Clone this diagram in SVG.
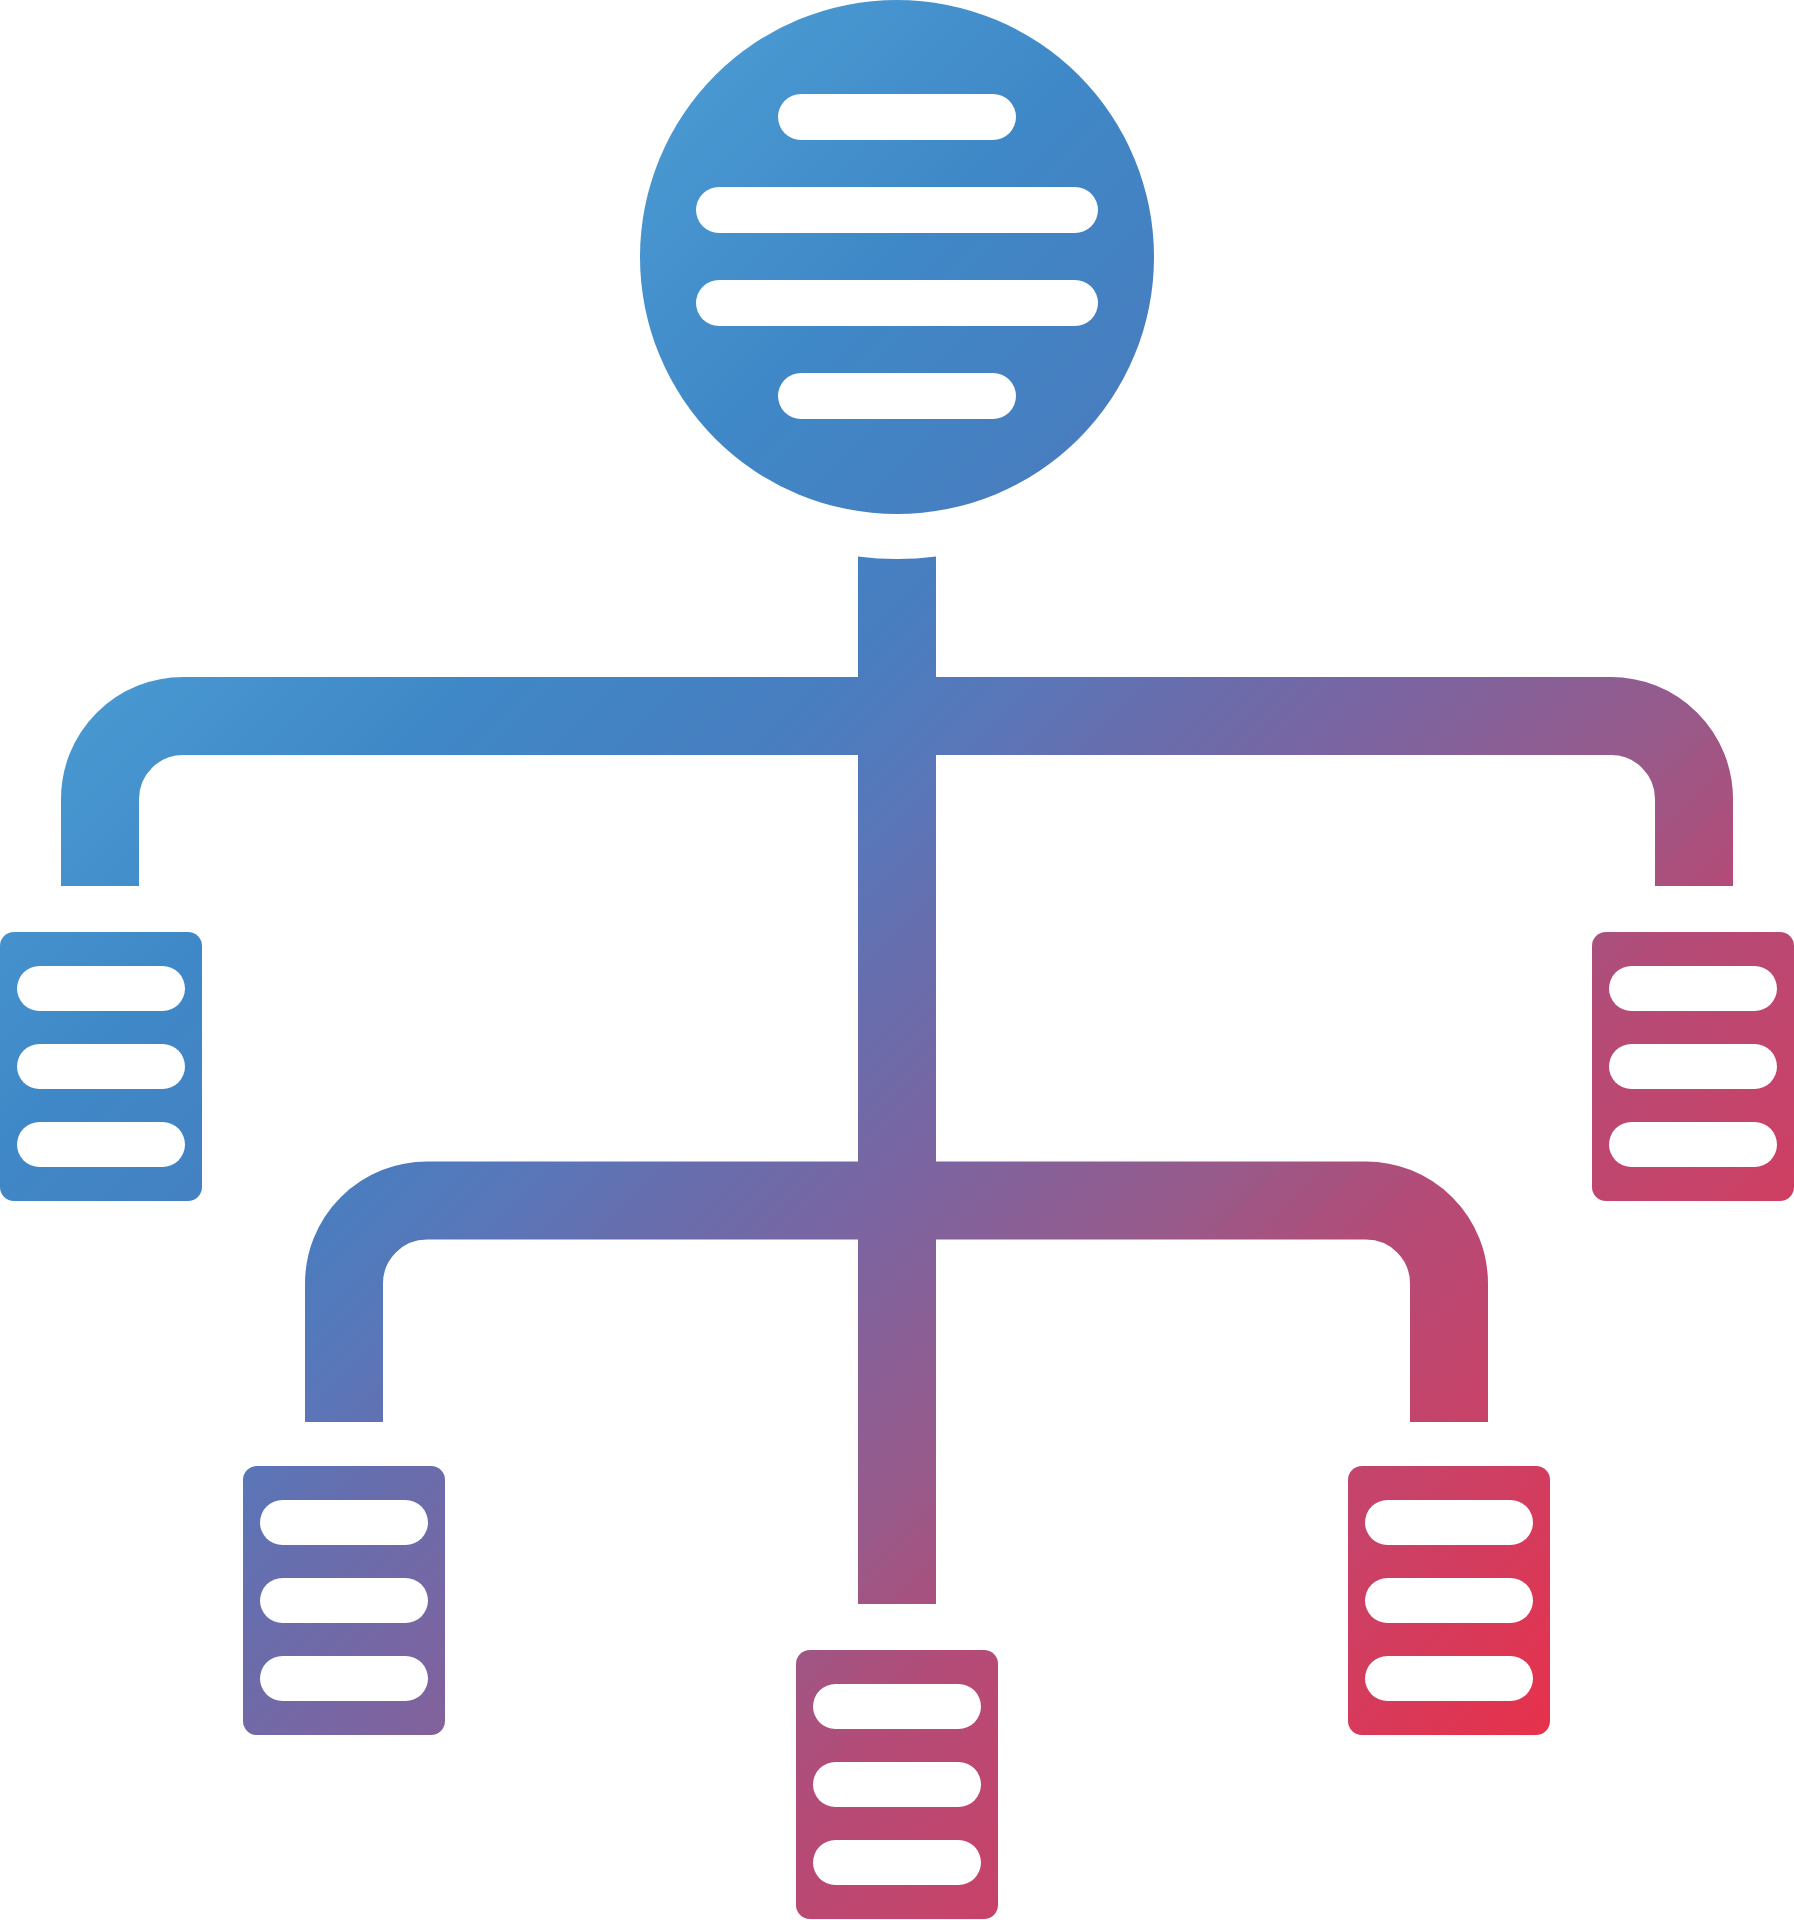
<svg xmlns="http://www.w3.org/2000/svg" width="1794" height="1920" viewBox="0 0 1794 1920">
  <defs>
    <linearGradient id="grad" gradientUnits="userSpaceOnUse" x1="0" y1="0" x2="1650" y2="1650">
      <stop offset="0.212" stop-color="#4b9cd4"/>
      <stop offset="0.348" stop-color="#3f88c7"/>
      <stop offset="0.455" stop-color="#477ec0"/>
      <stop offset="0.521" stop-color="#5a76b8"/>
      <stop offset="0.561" stop-color="#666eae"/>
      <stop offset="0.636" stop-color="#7c64a0"/>
      <stop offset="0.727" stop-color="#985a8a"/>
      <stop offset="0.788" stop-color="#b24c78"/>
      <stop offset="0.879" stop-color="#c84268"/>
      <stop offset="1" stop-color="#e8304a"/>
    </linearGradient>
    <style>
      .fill { fill: url(#grad); }
      .link { fill: none; stroke: url(#grad); stroke-width: 78; stroke-linecap: butt; }
      .slot { fill: #ffffff; }
    </style>
  </defs>
  <rect width="1794" height="1920" fill="#ffffff"/>

  <g id="connectors">
    <path class="fill" d="M858 556.5 A302 302 0 0 0 936 556.5 V1604 H858 Z"/>
    <path class="link" d="M100 886 V799 A83 83 0 0 1 183 716 H1611 A83 83 0 0 1 1694 799 V886"/>
    <path class="link" d="M344 1422 V1283.5 A83 83 0 0 1 427 1200.5 H1366 A83 83 0 0 1 1449 1283.5 V1422"/>
  </g>

  <g id="root">
    <circle class="fill" cx="897" cy="257" r="257"/>
    <rect class="slot" x="778" y="94" width="238" height="46" rx="23"/>
    <rect class="slot" x="696" y="187" width="402" height="46" rx="23"/>
    <rect class="slot" x="696" y="280" width="402" height="46" rx="23"/>
    <rect class="slot" x="778" y="373" width="238" height="46" rx="23"/>
  </g>

  <g id="node-top-left">
    <rect class="fill" x="0" y="932" width="202" height="269" rx="14"/>
    <rect class="slot" x="17" y="966" width="168" height="45" rx="22.5"/>
    <rect class="slot" x="17" y="1044" width="168" height="45" rx="22.5"/>
    <rect class="slot" x="17" y="1122" width="168" height="45" rx="22.5"/>
  </g>

  <g id="node-top-right">
    <rect class="fill" x="1592" y="932" width="202" height="269" rx="14"/>
    <rect class="slot" x="1609" y="966" width="168" height="45" rx="22.5"/>
    <rect class="slot" x="1609" y="1044" width="168" height="45" rx="22.5"/>
    <rect class="slot" x="1609" y="1122" width="168" height="45" rx="22.5"/>
  </g>

  <g id="node-bottom-left">
    <rect class="fill" x="243" y="1466" width="202" height="269" rx="14"/>
    <rect class="slot" x="260" y="1500" width="168" height="45" rx="22.5"/>
    <rect class="slot" x="260" y="1578" width="168" height="45" rx="22.5"/>
    <rect class="slot" x="260" y="1656" width="168" height="45" rx="22.5"/>
  </g>

  <g id="node-bottom-middle">
    <rect class="fill" x="796" y="1650" width="202" height="269" rx="14"/>
    <rect class="slot" x="813" y="1684" width="168" height="45" rx="22.5"/>
    <rect class="slot" x="813" y="1762" width="168" height="45" rx="22.5"/>
    <rect class="slot" x="813" y="1840" width="168" height="45" rx="22.5"/>
  </g>

  <g id="node-bottom-right">
    <rect class="fill" x="1348" y="1466" width="202" height="269" rx="14"/>
    <rect class="slot" x="1365" y="1500" width="168" height="45" rx="22.5"/>
    <rect class="slot" x="1365" y="1578" width="168" height="45" rx="22.5"/>
    <rect class="slot" x="1365" y="1656" width="168" height="45" rx="22.5"/>
  </g>
</svg>
